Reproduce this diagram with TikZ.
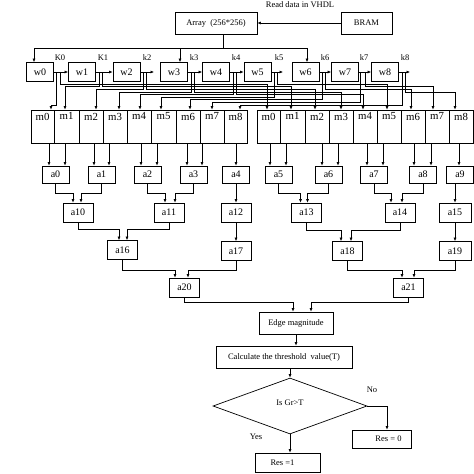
\documentclass[tikz,border=0pt]{standalone}
\usepackage{fontspec}
\setmainfont{Liberation Serif}
\usetikzlibrary{arrows.meta,shapes.geometric,calc}
\begin{document}
\begin{tikzpicture}[x=1pt,y=-1pt,
  every node/.style={inner sep=0pt},
  box/.style={draw, line width=0.7pt, align=center},
  wbox/.style={box, minimum width=27pt, minimum height=19pt, font=\fontsize{10}{11}\selectfont},
  mcell/.style={draw, line width=0.7pt, minimum height=33pt},
  abox/.style={box, minimum width=27pt, minimum height=17pt, font=\fontsize{10}{11}\selectfont},
  bbox/.style={box, minimum width=30pt, minimum height=19pt, font=\fontsize{10}{11}\selectfont},
  tbox/.style={box, font=\fontsize{8.5}{10}\selectfont},
  lbl/.style={font=\fontsize{8.5}{10}\selectfont},
  mlab/.style={anchor=north, yshift=-3pt, font=\fontsize{10.8}{12}\selectfont},
  conn/.style={line width=0.6pt, -{Latex[length=3.5pt,width=3pt]}},
  wire/.style={line width=0.6pt},
]
\useasboundingbox (0,0) rectangle (474,474);

% top
\node[lbl] (title) at (300,5) {Read data in VHDL};
\node[tbox, minimum width=82pt, minimum height=22pt] (arr) at (216,23) {Array\ \ (256*256)};
\node[tbox, minimum width=51pt, minimum height=22pt] (bram) at (366.5,23) {BRAM};
\draw[conn] (bram) -- (arr);

% w row
\foreach \n/\x in {0/40,1/82,2/126.5,3/174,4/216,5/257.5,6/305.5,7/345,8/385}
  \node[wbox] (w\n) at (\x,72) {w\n};
\coordinate (bus) at (223,48);
\draw[wire] ([xshift=7pt]arr.south) -- (bus);
\draw[conn] (bus) -| ([xshift=-6pt]w0.north);
\draw[conn] (bus) -| ([xshift=6pt]w3.north);
\draw[conn] (bus) -| ([xshift=1.5pt]w6.north);

\coordinate (e2) at (154,72);
\coordinate (e5) at (283,72);
\coordinate (e8) at (410,72);
\draw[conn] (w0) -- (w1);
\draw[conn] (w1) -- (w2);
\draw[conn] (w2) -- (e2);
\draw[conn] (w3) -- (w4);
\draw[conn] (w4) -- (w5);
\draw[conn] (w5) -- (e5);
\draw[conn] (w6) -- (w7);
\draw[conn] (w7) -- (w8);
\draw[conn] (w8) -- (e8);

\foreach \n/\t/\x in {0/K0/60,1/K1/103,2/k2/147,3/k3/194,4/k4/236,5/k5/279,6/k6/325,7/k7/364,8/k8/405}
  \node[lbl] (k\n) at (\x,58) {\t};

% m cells
\foreach \a/\b/\n in {31/54/0,54/79/1,79/103/2,103/127/3,127/151/4,151/176/5,176/200/6,200/224/7,224/247/8}
  \node[mcell, minimum width={\b-\a}, label={[mlab]north:m\n}] (mL\n) at ({(\a+\b)/2},126.5) {};
\foreach \a/\b/\n in {257/280/0,280/305/1,305/329/2,329/353/3,353/377/4,377/401/5,401/425/6,425/449/7,449/473/8}
  \node[mcell, minimum width={\b-\a}, label={[mlab]north:m\n}] (mR\n) at ({(\a+\b)/2},126.5) {};

% bus wiring k -> m
\draw[conn] ([xshift=2pt]w0.east) |- (51,104.8) -- ([xshift=8.5pt]mL0.north);
\draw[conn] ([xshift=6pt]w0.east) |- (267,84) -- ([xshift=-1.5pt]mR0.north);
\draw[conn] ([xshift=3pt]w1.east) |- (65,86.6) -- ([xshift=-1.5pt]mL1.north);
\draw[conn] ([xshift=6pt]w1.east) |- (291,86.6) -- ([xshift=-1.5pt]mR1.north);
\draw[conn] ([xshift=3pt]w2.east) |- (96,89.2) -- ([xshift=5pt]mL2.north);
\draw[conn] ([xshift=6pt]w2.east) |- (315,89.2) -- ([xshift=-2pt]mR2.north);
\draw[conn] ([xshift=3pt]w3.east) |- (119,91.8) -- ([xshift=4pt]mL3.north);
\draw[conn] ([xshift=6pt]w3.east) |- (341,91.8) -- (mR3.north);
\draw[conn] ([xshift=3pt]w4.east) |- (140,94.4) -- ([xshift=1pt]mL4.north);
\draw[conn] ([xshift=6pt]w4.east) |- (363,94.4) -- ([xshift=-2pt]mR4.north);
\draw[conn] ([xshift=3pt]w5.east) |- (161,97) -- ([xshift=-2.5pt]mL5.north);
\draw[conn] ([xshift=6pt]w5.east) |- (387,84) -- ([xshift=-2pt]mR5.north);
\draw[conn] ([xshift=3pt]w6.east) |- (190,99.6) -- ([xshift=2pt]mL6.north);
\draw[conn] ([xshift=6pt]w6.east) |- (411,89.2) -- ([xshift=-2pt]mR6.north);
\draw[conn] ([xshift=1.5pt]w7.east) |- (212,102.2) -- (mL7.north);
\draw[conn] ([xshift=6pt]w7.east) |- (433,86.6) -- ([xshift=-4pt]mR7.north);
\draw[conn] ([xshift=3pt]w8.east) |- (240,104.8) -- ([xshift=4.5pt]mL8.north);
\draw[conn] ([xshift=6pt]w8.east) |- (455,91.8) -- ([xshift=-6pt]mR8.north);

% a row
\foreach \n/\x in {0/55.5,1/101.5,2/147.5,3/193.5,4/236,5/278.5,6/328.5,7/374,8/423,9/460}
  \node[abox] (a\n) at (\x,174.5) {a\n};
% m -> a
\draw[conn] ([xshift=-6.5pt]a0.north |- mL0.south) -- ([xshift=-6.5pt]a0.north);
\draw[conn] ([xshift=9.5pt]a0.north |- mL1.south) -- ([xshift=9.5pt]a0.north);
\draw[conn] ([xshift=-7.5pt]a1.north |- mL2.south) -- ([xshift=-7.5pt]a1.north);
\draw[conn] ([xshift=7.5pt]a1.north |- mL3.south) -- ([xshift=7.5pt]a1.north);
\draw[conn] ([xshift=-6.5pt]a2.north |- mL4.south) -- ([xshift=-6.5pt]a2.north);
\draw[conn] ([xshift=9.5pt]a2.north |- mL5.south) -- ([xshift=9.5pt]a2.north);
\draw[conn] ([xshift=-6.5pt]a3.north |- mL6.south) -- ([xshift=-6.5pt]a3.north);
\draw[conn] ([xshift=8.5pt]a3.north |- mL7.south) -- ([xshift=8.5pt]a3.north);
\draw[conn] (a4.north |- mL8.south) -- (a4.north);
\draw[conn] ([xshift=-8.5pt]a5.north |- mR0.south) -- ([xshift=-8.5pt]a5.north);
\draw[conn] ([xshift=7.5pt]a5.north |- mR1.south) -- ([xshift=7.5pt]a5.north);
\draw[conn] ([xshift=-6.5pt]a6.north |- mR2.south) -- ([xshift=-6.5pt]a6.north);
\draw[conn] ([xshift=9.5pt]a6.north |- mR3.south) -- ([xshift=9.5pt]a6.north);
\draw[conn] ([xshift=-7pt]a7.north |- mR4.south) -- ([xshift=-7pt]a7.north);
\draw[conn] ([xshift=9pt]a7.north |- mR5.south) -- ([xshift=9pt]a7.north);
\draw[conn] ([xshift=-9pt]a8.north |- mR6.south) -- ([xshift=-9pt]a8.north);
\draw[conn] ([xshift=8pt]a8.north |- mR7.south) -- ([xshift=8pt]a8.north);
\draw[conn] ([xshift=-1pt]a9.north |- mR8.south) -- ([xshift=-1pt]a9.north);

% level 2
\node[bbox] (a10) at (78,212.5) {a10};
\node[bbox] (a11) at (169,212.5) {a11};
\node[bbox] (a12) at (236,212.5) {a12};
\node[bbox] (a13) at (306.5,212.5) {a13};
\node[bbox] (a14) at (400,212.5) {a14};
\node[bbox, minimum width=32pt] (a15) at (455,212.5) {a15};
\draw[conn] (a0.south) -- ++(0,10) -| ([xshift=-5pt]a10.north);
\draw[conn] (a1.south) -- ++(0,10) -| ([xshift=3pt]a10.north);
\draw[conn] (a2.south) -- ++(0,10) -| ([xshift=-4pt]a11.north);
\draw[conn] (a3.south) -- ++(0,10) -| ([xshift=6pt]a11.north);
\draw[conn] (a4.south) -- (a12.north);
\draw[conn] (a5.south) -- ++(0,10) -| ([xshift=-6pt]a13.north);
\draw[conn] (a6.south) -- ++(0,10) -| ([xshift=1pt]a13.north);
\draw[conn] (a7.south) -- ++(0,10) -| ([xshift=-9pt]a14.north);
\draw[conn] (a8.south) -- ++(0,10) -| ([xshift=2pt]a14.north);
\draw[conn] (a9.south -| a15.north) -- (a15.north);

% level 3
\node[bbox] (a16) at (122.5,250) {a16};
\node[bbox] (a17) at (236,251) {a17};
\node[bbox] (a18) at (347.5,251) {a18};
\node[bbox, minimum width=32pt] (a19) at (455,251) {a19};
\draw[conn] (a10.south) -- ++(0,7) -| ([xshift=-3.5pt]a16.north);
\draw[conn] (a11.south) -- ++(0,7) -| ([xshift=4.5pt]a16.north);
\draw[conn] (a12.south) -- (a17.north);
\draw[conn] (a13.south) -- ++(0,8) -| ([xshift=-6.5pt]a18.north);
\draw[conn] (a14.south) -- ++(0,8) -| ([xshift=3.5pt]a18.north);
\draw[conn] (a15.south) -- (a19.north);

% level 4
\node[bbox] (a20) at (184.5,287.5) {a20};
\node[bbox] (a21) at (408.5,287.5) {a21};
\draw[conn] (a16.south) -- ++(0,10.5) -| ([xshift=-9.5pt]a20.north);
\draw[conn] (a17.south) -- ++(0,9.5) -| ([xshift=3.5pt]a20.north);
\draw[conn] (a18.south) -- ++(0,9.5) -| ([xshift=-6.5pt]a21.north);
\draw[conn] (a19.south) -- ++(0,9.5) -| ([xshift=5.5pt]a21.north);

% bottom flow
\node[tbox, minimum width=74pt, minimum height=22pt] (edge) at (296,323) {Edge magnitude};
\draw[conn] (a20.south) -- ++(0,5) -| ([xshift=-3pt]edge.north);
\draw[conn] (a21.south) -- ++(0,5) -| ([xshift=15pt]edge.north);
\node[tbox, minimum width=136pt, minimum height=22pt] (calc) at (284,357) {Calculate the threshold\ \ value(T)};
\draw[conn] (edge.south) -- (edge.south |- calc.north);
\node[draw, diamond, line width=0.7pt, minimum width=154pt, minimum height=56pt, font=\fontsize{8.5}{10}\selectfont] (dia) at (290,406) {\raisebox{6pt}{Is Gr>T}};
\draw[conn] (dia.north |- calc.south) -- (dia.north);
\node[tbox, minimum width=59pt, minimum height=18pt] (res0) at (381.5,439) {\hspace*{14pt}Res = 0};
\node[tbox, minimum width=65pt, minimum height=19pt] (res1) at (287.5,462.5) {Res =1\hspace*{10pt}};
\draw[conn] (dia.east) -| ([xshift=5.5pt]res0.north);
\draw[conn] (dia.south) -- (dia.south |- res1.north);
\node[lbl] (no) at (372,390) {No};
\node[lbl] (yes) at (256,437) {Yes};
\end{tikzpicture}
\end{document}
